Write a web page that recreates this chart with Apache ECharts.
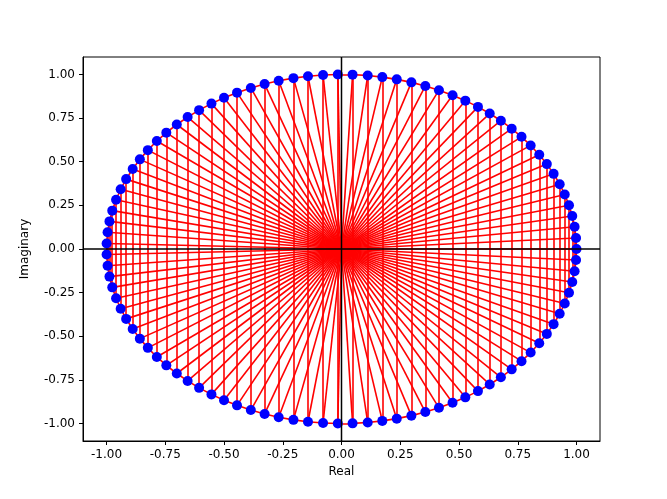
<!DOCTYPE html><html><head><meta charset="utf-8"><script src="https://cdn.jsdelivr.net/npm/echarts@6/dist/echarts.min.js"></script></head><body style="margin:0"><div id="c" style="width:667px;height:499px"></div><script>
const anglesDeg=[0,3.6,7.3,10.9,14.5,18.2,21.8,25.5,29.1,32.7,36.4,40.0,43.6,47.3,50.9,54.5,58.2,61.8,65.5,69.1,72.7,76.4,80.0,83.6,87.3,90.9,94.5,98.2,101.8,105.5,109.1,112.7,116.4,120.0,123.6,127.3,130.9,134.5,138.2,141.8,145.5,149.1,152.7,156.4,160.0,163.6,167.3,170.9,174.5,178.2,181.8,185.5,189.1,192.7,196.4,200.0,203.6,207.3,210.9,214.5,218.2,221.8,225.5,229.1,232.7,236.4,240.0,243.6,247.3,250.9,254.5,258.2,261.8,265.5,269.1,272.7,276.4,280.0,283.6,287.3,290.9,294.5,298.2,301.8,305.5,309.1,312.7,316.4,320.0,323.6,327.3,330.9,334.5,338.2,341.8,345.5,349.1,352.7,356.4];
const ticks=[-1,-0.75,-0.5,-0.25,0,0.25,0.5,0.75,1];
const pts=anglesDeg.map(a=>[Math.cos(a*Math.PI/180),Math.sin(a*Math.PI/180)]);
const n=pts.length;
const segs=[];
pts.forEach((p,i)=>{segs.push({coords:[[0,0],p]});segs.push({coords:[p,pts[(i+1)%n]]});
 if(i>0&&i<n-i)segs.push({coords:[p,pts[n-i]]});});
const font='DejaVu Sans';
function ax(name,gap){return {type:'value',min:-1.1,max:1.1,name:name,nameLocation:'middle',nameGap:gap,
 nameTextStyle:{fontFamily:font,fontSize:12,color:'#000'},
 axisLine:{onZero:false,lineStyle:{color:'#000',width:1}},
 axisTick:{show:true,customValues:ticks,length:4,lineStyle:{color:'#000'}},
 axisLabel:{customValues:ticks,fontFamily:font,fontSize:12,color:'#000',formatter:v=>v.toFixed(2)},
 splitLine:{show:false}};}
const chart=echarts.init(document.getElementById('c'));
chart.setOption({animation:false,
 grid:{left:83,right:67,top:57,bottom:58,show:true,borderColor:'#000',borderWidth:1},
 xAxis:ax('Real',22),
 yAxis:ax('Imaginary',52),
 series:[
  {type:'lines',coordinateSystem:'cartesian2d',z:2,lineStyle:{color:'#ff0000',width:1.6,opacity:1},data:segs},
  {type:'scatter',z:3,symbolSize:10,itemStyle:{color:'#0000ff',opacity:1},data:pts},
  {type:'line',z:4,symbol:'none',lineStyle:{color:'#000',width:1.5},data:[[-1.1,0],[1.1,0]]},
  {type:'line',z:4,symbol:'none',lineStyle:{color:'#000',width:1.5},data:[[0,-1.1],[0,1.1]]}
 ]});
</script></body></html>
